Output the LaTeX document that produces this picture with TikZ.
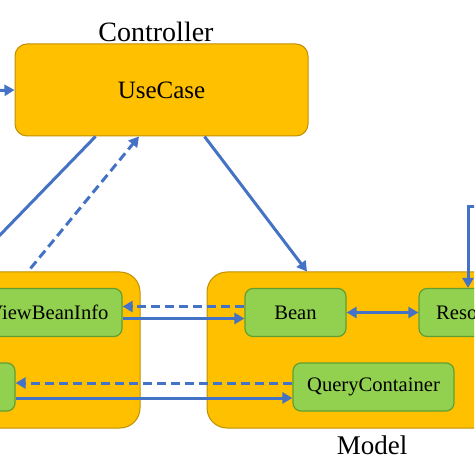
\documentclass[tikz,border=0pt]{standalone}
\usepackage{fontspec}
\setmainfont{Liberation Serif}
\usepackage{xcolor}
\usetikzlibrary{arrows.meta, positioning}
\definecolor{amber}{RGB}{255,192,0}
\definecolor{amberline}{RGB}{191,144,0}
\definecolor{leaf}{RGB}{146,208,80}
\definecolor{leafline}{RGB}{96,160,50}
\definecolor{wire}{RGB}{68,114,196}

\begin{document}
\begin{tikzpicture}[x=0.5pt, y=-0.5pt,
      every node/.style={font=\fontsize{10.3pt}{12pt}\selectfont},
      grp/.style={draw=amberline, fill=amber, line width=0.5pt, rounded corners=10pt,
                  minimum height=78pt},
      part/.style={draw=leafline, fill=leaf, line width=0.6pt, rounded corners=4pt,
                   minimum height=24pt},
      title/.style={font=\fontsize{14pt}{16pt}\selectfont},
      flow/.style={draw=wire, line width=1.5pt, -{Triangle[length=5pt, width=5.5pt]}},
      dep/.style={flow, dash pattern=on 4.5pt off 2.5pt}]
    \useasboundingbox (0,0) rectangle (474,474);
    \clip (0,0) rectangle (474,474);
    % controller
    \node[grp, rounded corners=6pt, minimum width=146.5pt, minimum height=46pt,
          font=\fontsize{12.5pt}{14pt}\selectfont] (usecase) at (161.5,90) {UseCase};
    \node[title] (ctrl) at (156,32) {Controller};
    % view
    \node[grp, minimum width=145pt] (view) at (-5,350) {};
    \node[part, minimum width=73.5pt] (vbi) at (48.5,312.5) {ViewBeanInfo};
    \node[part, minimum width=57.5pt] (vq) at (-42.5,387) {};
    % model
    \node[grp, minimum width=176.5pt] (model) at (383.5,350) {};
    \node[part, minimum width=50.5pt] (bean) at (295.5,312.5) {Bean};
    \node[part, minimum width=55.5pt] (reso) at (474.5,312.5) {Resource};
    \node[part, minimum width=80.5pt] (qc) at (373.5,387) {QueryContainer};
    \node[title, font=\fontsize{13.5pt}{16pt}\selectfont] (mlabel) at (372,445) {Model};
    % free ends
    \coordinate (vin) at (-20,91);
    \coordinate (vout) at (-30,266);
    \coordinate (rin) at (490,207);
    % connectors
    \draw[flow] (vin) -- (usecase.west);
    \draw[flow] ([xshift=-33pt]usecase.south) -- (vout);
    \draw[dep, shorten <=2pt] ([xshift=16.5pt]view.north) -- ([xshift=-11.25pt]usecase.south);
    \draw[flow] ([xshift=21.5pt]usecase.south) -- ([xshift=-38.25pt]model.north);
    \draw[dep] ([yshift=3pt]bean.west) -- ([yshift=3pt]vbi.east);
    \draw[flow] ([yshift=-3pt]vbi.east) -- ([yshift=-3pt]bean.west);
    \draw[dep] ([yshift=2pt]qc.west) -- ([yshift=2pt]vq.east);
    \draw[flow] ([yshift=-5.5pt]vq.east) -- ([yshift=-5.5pt]qc.west);
    \draw[flow, {Triangle[length=5pt, width=5.5pt]}-{Triangle[length=5pt, width=5.5pt]}]
      (bean.east) -- (reso.west);
    \draw[flow] (rin) -| ([xshift=-3.25pt]reso.north);
  \end{tikzpicture}
\end{document}
